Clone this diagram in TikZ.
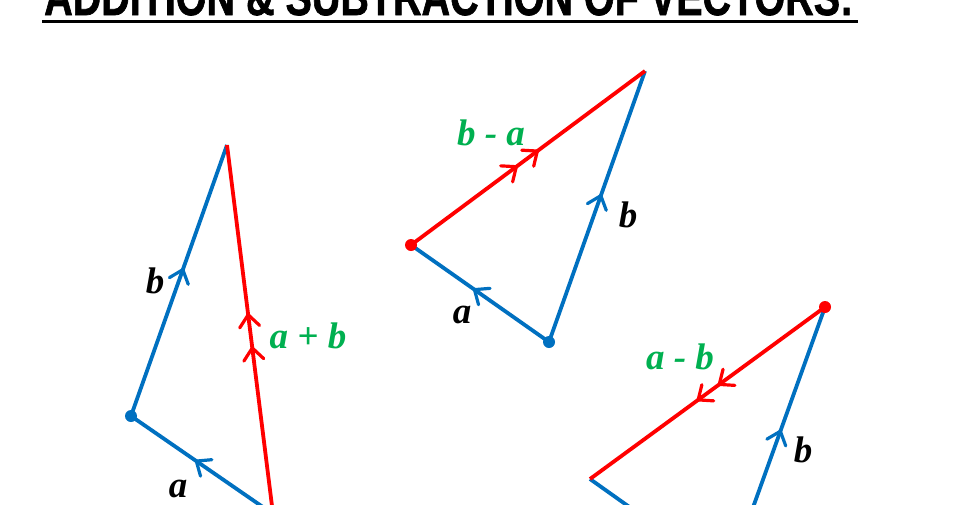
\documentclass[tikz,border=0pt]{standalone}
\usepackage{fontspec}
\usepackage{graphicx}
\usetikzlibrary{decorations.markings}
\newfontfamily\titlefont[FakeBold=1.5]{Liberation Sans}
\newfontfamily\lblfont{Liberation Serif}
\definecolor{vblue}{RGB}{0,112,192}
\definecolor{vred}{RGB}{255,0,0}
\definecolor{vgreen}{RGB}{0,176,80}
\tikzset{
  vec/.style={line width=3.8pt},
  chevron/.style={line width=3.2pt,line cap=round,line join=round},
  bluevec/.style={vec,vblue,postaction={decorate},decoration={markings,
     mark=at position 0.54 with {\draw[chevron,vblue] (-12pt,10pt) -- (0pt,0pt) -- (-12pt,-10pt);}}},
  redvec/.style={vec,vred,postaction={decorate},decoration={markings,
     mark=at position 0.45 with {\draw[chevron,vred] (-12pt,10pt) -- (0pt,0pt) -- (-12pt,-10pt);},
     mark=at position 0.54 with {\draw[chevron,vred] (-12pt,10pt) -- (0pt,0pt) -- (-12pt,-10pt);}}},
  lbl/.style={font=\lblfont\fontsize{37}{40}\selectfont\bfseries\itshape,anchor=base,inner sep=0pt},
  blk/.style={lbl,black},
  grn/.style={lbl,vgreen},
  dotb/.style={circle,fill=vblue,inner sep=0pt,minimum size=12pt},
  dotr/.style={circle,fill=vred,inner sep=0pt,minimum size=12pt},
}
\begin{document}
\begin{tikzpicture}[x=1pt,y=-1pt]
\useasboundingbox (0,0) rectangle (960,504);
\clip (0,0) rectangle (960,504);
\fill[white] (0,0) rectangle (960,504);
% title
\node[anchor=base west,inner sep=0pt] (title) at (44,15)
  {\resizebox{809pt}{36pt}{\titlefont\bfseries ADDITION \& SUBTRACTION OF VECTORS:}};
\fill (42,19.5) rectangle (858,22.5);
% diagram 1
\coordinate (O1) at (273,514);
\coordinate (A1) at (131,416);
\coordinate (B1) at (227,145);
\draw[bluevec] (O1) -- (A1);
\draw[bluevec] (A1) -- (B1);
\draw[redvec] (O1) -- (B1);
\node[dotb] (dA1) at (A1) {};
\node[blk] (lb1) at (155,293) {b};
\node[blk] (la1) at (178,497) {a};
\node[grn] (lab) at (308,348) {a + b};
% diagram 2
\coordinate (O2) at (549,342);
\coordinate (A2) at (411,245);
\coordinate (B2) at (645,71);
\draw[bluevec] (O2) -- (A2);
\draw[bluevec] (O2) -- (B2);
\draw[redvec] (A2) -- (B2);
\node[dotb] (dO2) at (O2) {};
\node[dotr] (dA2) at (A2) {};
\node[grn] (lba) at (491,145) {b - a};
\node[blk] (lb2) at (628,227) {b};
\node[blk] (la2) at (462,323) {a};
% diagram 3
\coordinate (O3) at (728,577);
\coordinate (A3) at (590,479);
\coordinate (B3) at (825,307);
\draw[bluevec] (O3) -- (A3);
\draw[bluevec] (O3) -- (B3);
\draw[redvec] (B3) -- (A3);
\node[dotr] (dB3) at (B3) {};
\node[grn] (lamb) at (680,369) {a - b};
\node[blk] (lb3) at (803,462) {b};
\end{tikzpicture}
\end{document}
